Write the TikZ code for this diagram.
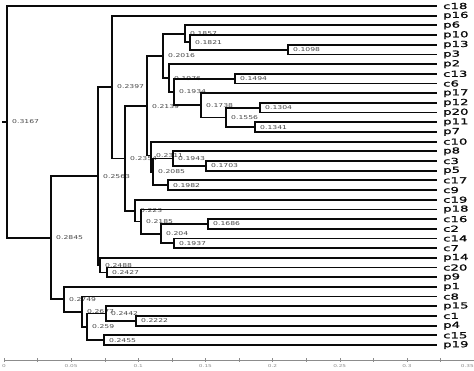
\documentclass[tikz,border=0pt]{standalone}
\usepackage{fontspec}
\usepackage{tikz}
\usepackage{xcolor}
\newfontfamily\leaffont[FakeStretch=1.6,FakeBold=1.2]{DejaVu Sans}
\newfontfamily\distfont[FakeStretch=1.45]{DejaVu Sans}
\definecolor{treeLine}{RGB}{10,10,10}
\definecolor{distText}{RGB}{70,70,70}
\definecolor{axisGray}{RGB}{140,140,140}
\tikzset{
    branch/.style={
        draw=treeLine,
        line width=1.8pt
    },
    leafname/.style={
        anchor=west,
        inner xsep=6pt,
        inner ysep=0pt,
        text=treeLine,
        font=\leaffont\fontsize{8.3}{8.3}\selectfont
    },
    distlabel/.style={
        inner sep=1pt,
        text=distText,
        font=\distfont\fontsize{5.3}{5.3}\selectfont
    },
    axisline/.style={draw=axisGray, line width=0.4pt},
    ticklabel/.style={inner sep=0pt, text=axisGray, font=\distfont\fontsize{4}{4}\selectfont}
}

\begin{document}
\begin{tikzpicture}[x=1pt, y=-1pt, label distance=4pt]
    \useasboundingbox (0,0) rectangle (474,370);
    % leaves
    \foreach \leaf [count=\i from 0] in {c18,p16,p6,p10,p13,p3,p2,c13,c6,p17,p12,p20,p11,p7,c10,p8,c3,p5,c17,c9,c19,p18,c16,c2,c14,c7,p14,c20,p9,p1,c8,p15,c1,p4,c15,p19}
        \node[leafname] (\leaf) at (437,{6+9.686*\i}) {\leaf};
    % joins
    \coordinate[label={[distlabel]right:0.1098}] (n1098) at (288,49.6);
    \coordinate[label={[distlabel]right:0.1821}] (n1821) at (190,42.3);
    \coordinate[label={[distlabel]right:0.1857}] (n1857) at (185,33.8);
    \coordinate[label={[distlabel]right:0.1494}] (n1494) at (235,78.6);
    \coordinate[label={[distlabel]right:0.1304}] (n1304) at (260,107.7);
    \coordinate[label={[distlabel]right:0.1341}] (n1341) at (255,127.1);
    \coordinate[label={[distlabel]right:0.1556}] (n1556) at (226,117.4);
    \coordinate[label={[distlabel]right:0.1738}] (n1738) at (201,105.3);
    \coordinate[label={[distlabel]right:0.1934}] (n1934) at (174,92.0);
    \coordinate[label={[distlabel]right:0.1976}] (n1976) at (169,78.1);
    \coordinate[label={[distlabel]right:0.2016}] (n2016) at (163,55.9);
    \coordinate[label={[distlabel]right:0.1703}] (n1703) at (206,165.8);
    \coordinate[label={[distlabel]right:0.1943}] (n1943) at (173,158.5);
    \coordinate[label={[distlabel]right:0.1982}] (n1982) at (168,185.2);
    \coordinate[label={[distlabel]right:0.2085}] (n2085) at (153,171.9);
    \coordinate[label={[distlabel]right:0.2311}] (n2311) at (151,155.5);
    \coordinate[label={[distlabel]right:0.2139}] (n2139) at (147,106.3);
    \coordinate[label={[distlabel]right:0.1686}] (n1686) at (208,223.9);
    \coordinate[label={[distlabel]right:0.1937}] (n1937) at (174,243.3);
    \coordinate[label={[distlabel]right:0.204}] (n2040) at (161,233.6);
    \coordinate[label={[distlabel]right:0.2185}] (n2185) at (141,221.5);
    \coordinate[label={[distlabel]right:0.223}] (n2230) at (135,210.6);
    \coordinate[label={[distlabel]right:0.2354}] (n2354) at (125,158.4);
    \coordinate[label={[distlabel]right:0.2397}] (n2397) at (112,87.0);
    \coordinate[label={[distlabel]right:0.2427}] (n2427) at (107,272.4);
    \coordinate[label={[distlabel]right:0.2488}] (n2488) at (100,265.1);
    \coordinate[label={[distlabel]right:0.2563}] (n2563) at (98,176.1);
    \coordinate[label={[distlabel]right:0.2222}] (n2222) at (136,320.8);
    \coordinate[label={[distlabel]right:0.2442}] (n2442) at (106,313.5);
    \coordinate[label={[distlabel]right:0.2455}] (n2455) at (104,340.2);
    \coordinate[label={[distlabel]right:0.259}] (n2590) at (87,326.9);
    \coordinate[label={[distlabel]right:0.2677}] (n2677) at (82,311.7);
    \coordinate[label={[distlabel]right:0.2749}] (n2749) at (64,299.3);
    \coordinate[label={[distlabel]right:0.2845}] (n2845) at (51,237.7);
    \coordinate[label={[distlabel]right:0.3167}] (n3167) at (7,121.9);
    \coordinate (stub) at (2,121.9);
    % branches
    \foreach \up/\down in {n1098/p13,n1098/p3,n1821/p10,n1821/n1098,n1857/p6,n1857/n1821,
        n1494/c13,n1494/c6,n1304/p12,n1304/p20,n1341/p11,n1341/p7,n1556/n1304,n1556/n1341,
        n1738/p17,n1738/n1556,n1934/n1494,n1934/n1738,n1976/p2,n1976/n1934,n2016/n1857,n2016/n1976,
        n1703/c3,n1703/p5,n1943/p8,n1943/n1703,n1982/c17,n1982/c9,n2085/n1943,n2085/n1982,
        n2311/c10,n2311/n2085,n2139/n2016,n2139/n2311,n1686/c16,n1686/c2,n1937/c14,n1937/c7,
        n2040/n1686,n2040/n1937,n2185/p18,n2185/n2040,n2230/c19,n2230/n2185,n2354/n2139,n2354/n2230,
        n2397/p16,n2397/n2354,n2427/c20,n2427/p9,n2488/p14,n2488/n2427,n2563/n2397,n2563/n2488,
        n2222/c1,n2222/p4,n2442/p15,n2442/n2222,n2455/c15,n2455/p19,n2590/n2442,n2590/n2455,
        n2677/c8,n2677/n2590,n2749/p1,n2749/n2677,n2845/n2563,n2845/n2749,n3167/c18,n3167/n2845}
        \draw[branch] (\up) |- (\down);
    \draw[branch] (stub) -- (n3167);
    % axis
    \draw[axisline] (4,360) -- (474,360);
    \foreach \k in {0,...,14}
        \draw[axisline] ({4+33.571*\k},358) -- ({4+33.571*\k},362);
    \foreach \v [count=\k from 0] in {0,0.05,0.1,0.15,0.2,0.25,0.3}
        \node[ticklabel] (tick\k) at ({4+67.143*\k},366.5) {\v};
    \node[ticklabel, anchor=east] (tick7) at (474,366.5) {0.35};
\end{tikzpicture}
\end{document}
